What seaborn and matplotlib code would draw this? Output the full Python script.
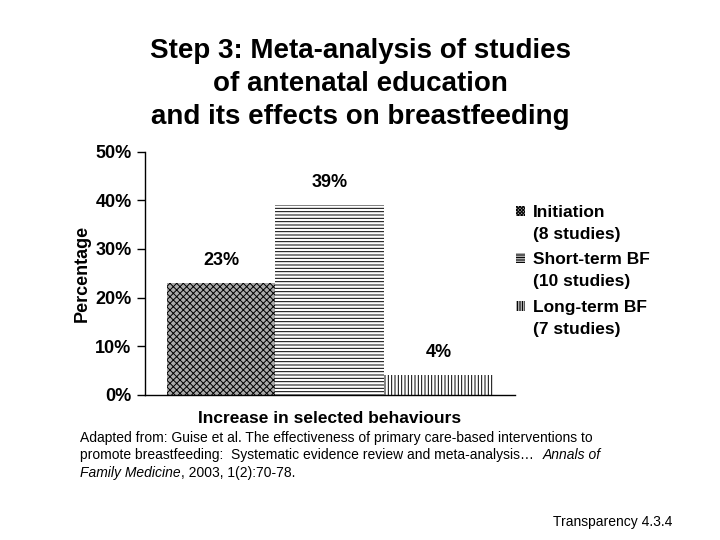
import matplotlib
matplotlib.use("Agg")
import matplotlib.pyplot as plt
from matplotlib.patches import Rectangle
import seaborn as sns
import pandas as pd

# data
behaviours = ["Initiation\n(8 studies)", "Short-term BF\n(10 studies)", "Long-term BF\n(7 studies)"]
increase = [23, 39, 4]
y_ticks = [0, 10, 20, 30, 40, 50]

sns.set_style("white")
plt.rcParams['font.family'] = ['Liberation Sans', 'DejaVu Sans']
plt.rcParams['text.color'] = 'black'
plt.rcParams['axes.labelcolor'] = 'black'
plt.rcParams['ytick.color'] = 'black'
plt.rcParams['hatch.linewidth'] = 0.7

df = pd.DataFrame({"group": ["all"] * 3, "behaviour": behaviours, "value": increase})

fig = plt.figure(figsize=(7.2, 5.4), dpi=100)
ax = fig.add_axes([0.201, 0.269, 0.514, 0.45])

ax = sns.barplot(data=df, x="group", y="value", hue="behaviour",
                 palette=["white"] * 3, edgecolor="black", linewidth=0,
                 width=0.88, legend=False, ax=ax)

hatches = ["xxxxx", "-----", "|||||"]
fills = ["#aaaaaa", "white", "white"]
for cont, h, fc in zip(ax.containers, hatches, fills):
    for bar in cont:
        bar.set_hatch(h)
        bar.set_facecolor(fc)
        bar.set_edgecolor("black")
        bar.set_linewidth(0)
    ax.bar_label(cont, labels=[f"{int(v)}%" for v in cont.datavalues],
                 padding=10, fontsize=13, fontweight="bold")

ax.set_ylim(0, 50)
ax.set_xlim(-0.5, 0.5)
ax.set_yticks(y_ticks)
ax.set_yticklabels([f"{t}%" for t in y_ticks], fontsize=13, fontweight="bold")
ax.set_xticks([])
ax.set_xlabel("Increase in selected behaviours", fontsize=12.5, fontweight="bold", labelpad=12)
ax.set_ylabel("Percentage", fontsize=13, fontweight="bold", labelpad=3)
ax.tick_params(axis="y", direction="out", length=6, width=1, color="black", left=True)
for side in ["top", "right"]:
    ax.spines[side].set_visible(False)
for side in ["left", "bottom"]:
    ax.spines[side].set_color("black")
    ax.spines[side].set_linewidth(1)

# legend drawn by hand so the swatch sits beside the first line of each label
W, H = 720, 540
leg_rows = [211, 258, 306]
for lab, h, fc, yr in zip(behaviours, hatches, fills, leg_rows):
    fig.patches.append(Rectangle((516 / W, 1 - (yr + 5) / H), 9 / W, 10 / H,
                                 transform=fig.transFigure, facecolor=fc,
                                 hatch=h + h, edgecolor="black", linewidth=0))
    fig.text(533 / W, 1 - (yr - 6) / H, lab, fontsize=12.5, fontweight="bold",
             va="top", ha="left", linespacing=1.6)

fig.text(0.5, 1 - 38 / H, "Step 3: Meta-analysis of studies\nof antenatal education\nand its effects on breastfeeding",
         ha="center", va="top", fontsize=20, fontweight="bold", linespacing=1.36)

fs = 10
fig.text(80 / W, 1 - 438 / H, "Adapted from: Guise et al. The effectiveness of primary care-based interventions to",
         fontsize=fs, va="center")
fig.text(80 / W, 1 - 455 / H, "promote breastfeeding:  Systematic evidence review and meta-analysis…",
         fontsize=fs, va="center")
fig.text(543 / W, 1 - 455 / H, "Annals of", fontsize=fs, va="center", style="italic")
fm = fig.text(80 / W, 1 - 473 / H, "Family Medicine", fontsize=fs, va="center", style="italic")
fig.canvas.draw()
bb = fm.get_window_extent()
fig.text(bb.x1 / fig.bbox.width, 1 - 473 / H, ", 2003, 1(2):70-78.", fontsize=fs, va="center")
fig.text(672 / W, 1 - 522 / H, "Transparency 4.3.4", fontsize=fs, va="center", ha="right")

fig.savefig("out.png", dpi=100)
